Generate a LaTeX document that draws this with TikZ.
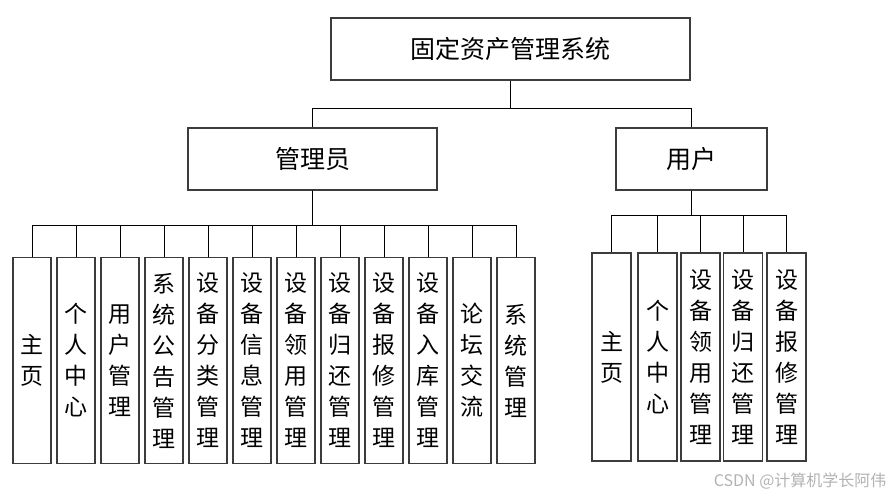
\documentclass[tikz,border=0pt]{standalone}
\usepackage{fontspec}
\setmainfont{Noto Sans CJK SC}
\definecolor{boxline}{RGB}{60, 60, 60}
\tikzstyle{box}=[shape=rectangle, draw=boxline, line width=1.2pt, fill=white, inner sep=0pt]
\tikzstyle{leaf}=[box, minimum width=38pt, minimum height=206pt, align=center, font=\fontsize{23}{31}\selectfont]
\tikzstyle{wire}=[draw=black, line width=0.9pt]

\begin{document}
\begin{tikzpicture}[x=1pt, y=-1pt]
    \useasboundingbox (0,0) rectangle (894,496);
    % Top levels
    \node[box, minimum width=359pt, minimum height=62pt, font=\fontsize{25}{30}\selectfont] (root) at (510.5,49) {固定资产管理系统};
    \node[box, minimum width=249pt, minimum height=62pt, font=\fontsize{25}{30}\selectfont] (admin) at (312.5,159) {管理员};
    \node[box, minimum width=151pt, minimum height=62pt, font=\fontsize{25}{30}\selectfont] (user) at (691.5,159) {用户};

    % Admin leaves
    \node[leaf] (a1) at (32,360.5) {主\\页};
    \node[leaf] (a2) at (76,360.5) {个\\人\\中\\心};
    \node[leaf] (a3) at (120,360.5) {用\\户\\管\\理};
    \node[leaf] (a4) at (164,360.5) {系\\统\\公\\告\\管\\理};
    \node[leaf] (a5) at (208,360.5) {设\\备\\分\\类\\管\\理};
    \node[leaf] (a6) at (252,360.5) {设\\备\\信\\息\\管\\理};
    \node[leaf] (a7) at (296,360.5) {设\\备\\领\\用\\管\\理};
    \node[leaf] (a8) at (340,360.5) {设\\备\\归\\还\\管\\理};
    \node[leaf] (a9) at (384,360.5) {设\\备\\报\\修\\管\\理};
    \node[leaf] (a10) at (428,360.5) {设\\备\\入\\库\\管\\理};
    \node[leaf] (a11) at (472,360.5) {论\\坛\\交\\流};
    \node[leaf] (a12) at (516,360.5) {系\\统\\管\\理};

    % User leaves
    \node[leaf, minimum width=39pt, minimum height=208pt] (u1) at (611.5,357) {主\\页};
    \node[leaf, minimum width=39pt, minimum height=208pt] (u2) at (657.5,357) {个\\人\\中\\心};
    \node[leaf, minimum width=39pt, minimum height=208pt] (u3) at (700.5,357) {设\\备\\领\\用\\管\\理};
    \node[leaf, minimum width=39pt, minimum height=208pt] (u4) at (743,357) {设\\备\\归\\还\\管\\理};
    \node[leaf, minimum width=39pt, minimum height=208pt] (u5) at (786.5,357) {设\\备\\报\\修\\管\\理};

    % Connectors
    \draw[wire] (root.south) -- ++(0,28) -| (admin.north);
    \draw[wire] (root.south) ++(0,28) -| (user.north);
    \foreach \n in {a1,a2,a3,a4,a5,a6,a7,a8,a9,a10,a11,a12}
        \draw[wire] (admin.south) -- ++(0,35) -| (\n.north);
    \foreach \n in {u1,u2,u3,u4,u5}
        \draw[wire] (user.south) -- ++(0,25) -| (\n.north);

    \node[text=gray!60, font=\fontsize{16}{18}\selectfont, anchor=east] (mark) at (890,481) {CSDN @计算机学长阿伟};
\end{tikzpicture}
\end{document}
